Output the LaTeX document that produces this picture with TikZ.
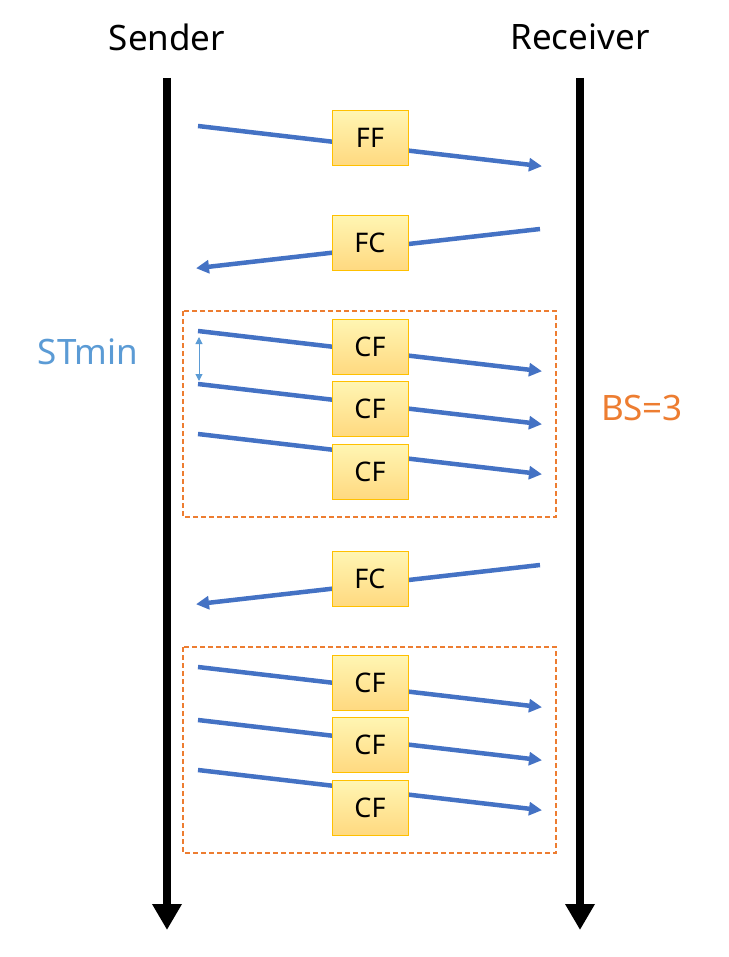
\documentclass[tikz,border=0pt]{standalone}
\usepackage{fontspec}
\setmainfont{Noto Sans}
\usetikzlibrary{arrows.meta}
\definecolor{msg}{HTML}{4472C4}
\definecolor{bsc}{HTML}{ED7D31}
\definecolor{stc}{HTML}{5B9BD5}
\definecolor{boxb}{HTML}{FFC000}
\begin{document}
\begin{tikzpicture}[x=1pt,y=-1pt,
  life/.style={line width=8pt,-{Triangle[width=28pt,length=26pt]}},
  m/.style={draw=msg,line width=4.5pt,-{Triangle[width=13pt,length=13pt]},shorten >=-2pt},
  frame/.style={draw=boxb,line width=0.8pt,top color=orange!25!yellow!30,bottom color=orange!60!yellow!50,minimum width=76pt,minimum height=55pt,inner sep=0pt,font=\fontsize{27}{27}\selectfont},
  grp/.style={draw=bsc,dashed,line width=1.2pt,dash pattern=on 5pt off 3pt},
  lbl/.style={font=\fontsize{35}{35}\selectfont}]
\useasboundingbox (0,0) rectangle (728,957);
\node[lbl] (snd) at (167,37) {Sender};
\node[lbl] (rcv) at (580,37) {Receiver};
\coordinate (s0) at (167,78); \coordinate (s1) at (167,930);
\coordinate (r0) at (580,78); \coordinate (r1) at (580,930);
\draw[life] (s0) -- (s1);
\draw[life] (r0) -- (r1);
\draw[grp] (183,311) rectangle (556,517);
\draw[grp] (183,647) rectangle (556,853);
% right-going
\foreach \n/\y in {a/126,b/331,c/384,d/434,e/667,f/720,g/770}{
  \coordinate (\n1) at (198,\y); \coordinate (\n2) at (540,\y+40);
  \draw[m] (\n1) -- (\n2);}
\foreach \n/\y in {h/229,i/565}{
  \coordinate (\n1) at (540,\y); \coordinate (\n2) at (198,\y+39);
  \draw[m] (\n1) -- (\n2);}
\node[frame] (ff) at (370,138) {FF};
\node[frame] (fc1) at (370,243) {FC};
\node[frame] (cf1) at (370,347) {CF};
\node[frame] (cf2) at (370,409) {CF};
\node[frame] (cf3) at (370,472) {CF};
\node[frame] (fc2) at (370,579) {FC};
\node[frame] (cf4) at (370,683) {CF};
\node[frame] (cf5) at (370,745) {CF};
\node[frame] (cf6) at (370,808) {CF};
\coordinate (st0) at (199,337); \coordinate (st1) at (199,381);
\draw[stc,line width=1pt,{Triangle[width=7pt,length=7pt]}-{Triangle[width=7pt,length=7pt]}] (st0) -- (st1);
\node[lbl,text=stc] (stmin) at (88,352) {STmin};
\node[lbl,text=bsc] (bs) at (642,408) {BS=3};
\end{tikzpicture}
\end{document}
